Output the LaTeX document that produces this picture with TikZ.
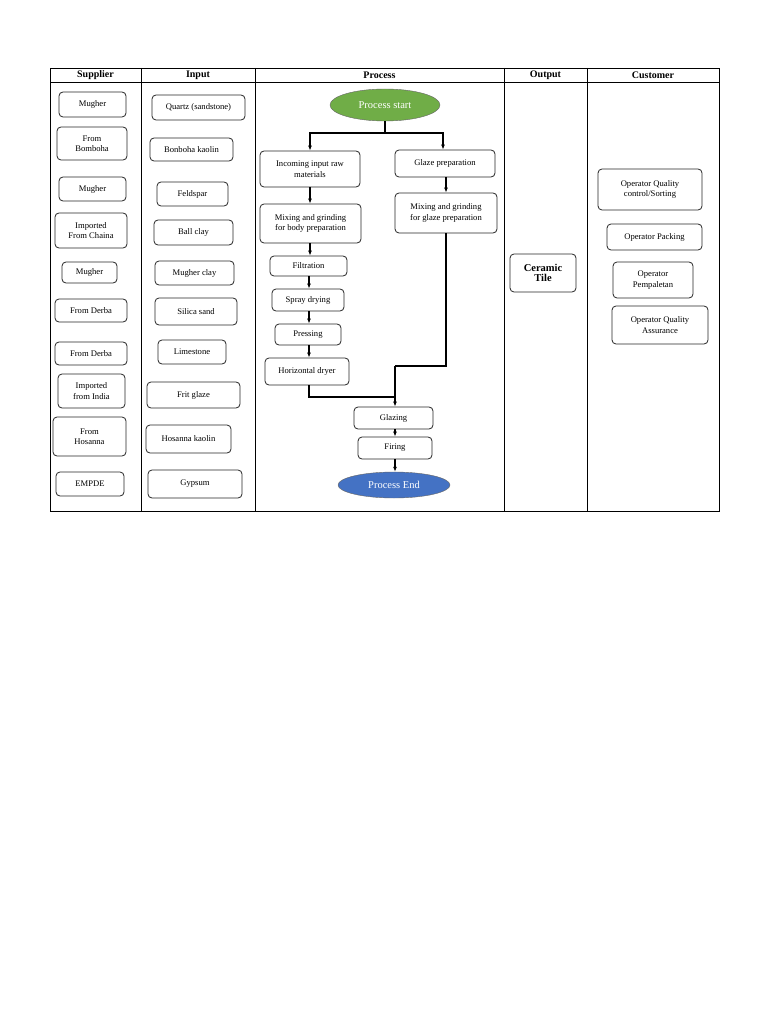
\documentclass[tikz,border=0pt]{standalone}
\usepackage{fontspec}
\setmainfont{Liberation Serif}
\usetikzlibrary{shapes.geometric,arrows.meta}
\newcommand\bx[6]{\node[bx,minimum width={(#4-#2)*1pt},minimum height={(#5-#3)*1pt}] (#1) at ({(#2+#4)/2},{(#3+#5)/2}) {#6};}
\begin{document}
\begin{tikzpicture}[x=1pt,y=-1pt,
  bx/.style={draw=black!85,line width=0.8pt,rounded corners=4pt,inner sep=1pt,align=center,font=\fontsize{8.6}{10.5}\selectfont},
  hd/.style={font=\fontsize{10}{12}\selectfont\bfseries},
  arr/.style={line width=1.2pt,-{Latex[length=5pt,width=4pt]}},
  ln/.style={line width=1.2pt}]
\useasboundingbox (0,0) rectangle (768,1024);
\fill[white] (0,0) rectangle (768,1024);
% table
\draw[line width=0.8pt] (50,68) rectangle (719,511);
\draw[line width=0.8pt] (50,82) -- (719,82);
\foreach \x in {141,255,504,587} \draw[line width=0.8pt] (\x,68) -- (\x,511);
\node[hd] (h1) at (95.5,75) {Supplier};
\node[hd] (h2) at (198,75) {Input};
\node[hd] (h3) at (379.5,75) {Process};
\node[hd] (h4) at (545.5,75) {Output};
\node[hd] (h5) at (653,75) {Customer};
% suppliers
\bx{s1}{59}{92}{126}{117}{Mugher}
\bx{s2}{57}{127}{127}{160}{From\\Bomboha}
\bx{s3}{59}{177}{126}{201}{Mugher}
\bx{s4}{55}{213}{127}{248}{Imported\\From Chaina}
\bx{s5}{62}{262}{117}{283}{Mugher}
\bx{s6}{55}{299}{127}{322}{From Derba}
\bx{s7}{55}{342}{127}{365}{From Derba}
\bx{s8}{58}{374}{125}{408}{Imported\\from India}
\bx{s9}{53}{417}{126}{456}{From\\Hosanna}
\bx{s10}{56}{472}{124}{496}{EMPDE}
% inputs
\bx{i1}{152}{95}{245}{120}{Quartz (sandstone)}
\bx{i2}{150}{138}{233}{161}{Bonboha kaolin}
\bx{i3}{157}{182}{228}{206}{Feldspar}
\bx{i4}{154}{220}{233}{245}{Ball clay}
\bx{i5}{155}{261}{234}{285}{Mugher clay}
\bx{i6}{155}{298}{237}{325}{Silica sand}
\bx{i7}{158}{340}{226}{364}{Limestone}
\bx{i8}{147}{382}{240}{408}{Frit glaze}
\bx{i9}{146}{425}{231}{453}{Hosanna kaolin}
\bx{i10}{148}{470}{242}{498}{Gypsum}
% process
\node[ellipse,draw=black!60,fill={rgb,255:red,112;green,173;blue,71},text=white,minimum width=110pt,minimum height=32pt,font=\fontsize{10.5}{12}\selectfont] (ps) at (385,105) {Process start};
\bx{p1}{260}{151}{360}{187}{Incoming input raw\\materials}
\bx{g1}{395}{150}{495}{177}{Glaze preparation}
\bx{p2}{260}{204}{361}{243}{Mixing and grinding\\for body preparation}
\bx{g2}{395}{193}{497}{233}{Mixing and grinding\\for glaze preparation}
\bx{p3}{270}{256}{347}{276}{Filtration}
\bx{p4}{272}{289}{344}{311}{Spray drying}
\bx{p5}{275}{324}{341}{345}{Pressing}
\bx{p6}{265}{358}{349}{385}{Horizontal dryer}
\bx{p7}{354}{407}{433}{429}{Glazing}
\bx{p8}{358}{437}{432}{459}{Firing}
\node[ellipse,draw=black!60,fill={rgb,255:red,68;green,114;blue,196},text=white,minimum width=112pt,minimum height=26pt,font=\fontsize{10.5}{12}\selectfont] (pe) at (394,485) {Process End};
% output
\bx{o1}{510}{254}{576}{292}{\fontsize{10.5}{12}\selectfont\bfseries Ceramic\\\fontsize{10.5}{12}\selectfont\bfseries Tile}
% customers
\bx{c1}{598}{169}{702}{210}{Operator Quality\\control/Sorting}
\bx{c2}{607}{224}{702}{250}{Operator Packing}
\bx{c3}{613}{262}{693}{298}{Operator\\Pempaletan}
\bx{c4}{612}{306}{708}{344}{Operator Quality\\Assurance}
% connectors
\coordinate (sp) at (385,133);
\draw[ln] (ps.south) -- (sp);
\draw[arr] (sp) -| (p1.north-|310,0);
\draw[arr] (sp) -| (g1.north-|443,0);
\draw[arr] (p1.south-|310,0) -- (p2.north-|310,0);
\draw[arr] (g1.south-|446,0) -- (g2.north-|446,0);
\draw[arr] (p2.south-|310,0) -- (p3.north-|310,0);
\draw[arr] (p3.south-|309,0) -- (p4.north-|309,0);
\draw[arr] (p4.south-|309,0) -- (p5.north-|309,0);
\draw[arr] (p5.south-|309,0) -- (p6.north-|309,0);
\coordinate (m1) at (309,397);
\coordinate (m2) at (395,397);
\coordinate (m3) at (446,366);
\coordinate (m4) at (395,366);
\draw[ln] (p6.south-|309,0) -- (m1) -- (m2);
\draw[ln] (g2.south-|446,0) -- (m3) -- (m4);
\draw[arr] (m4) -- (p7.north-|395,0);
\draw[arr] (p7.south-|395,0) -- (p8.north-|395,0);
\draw[arr] (p8.south-|395,0) -- (pe.north-|395,0);
\end{tikzpicture}
\end{document}
